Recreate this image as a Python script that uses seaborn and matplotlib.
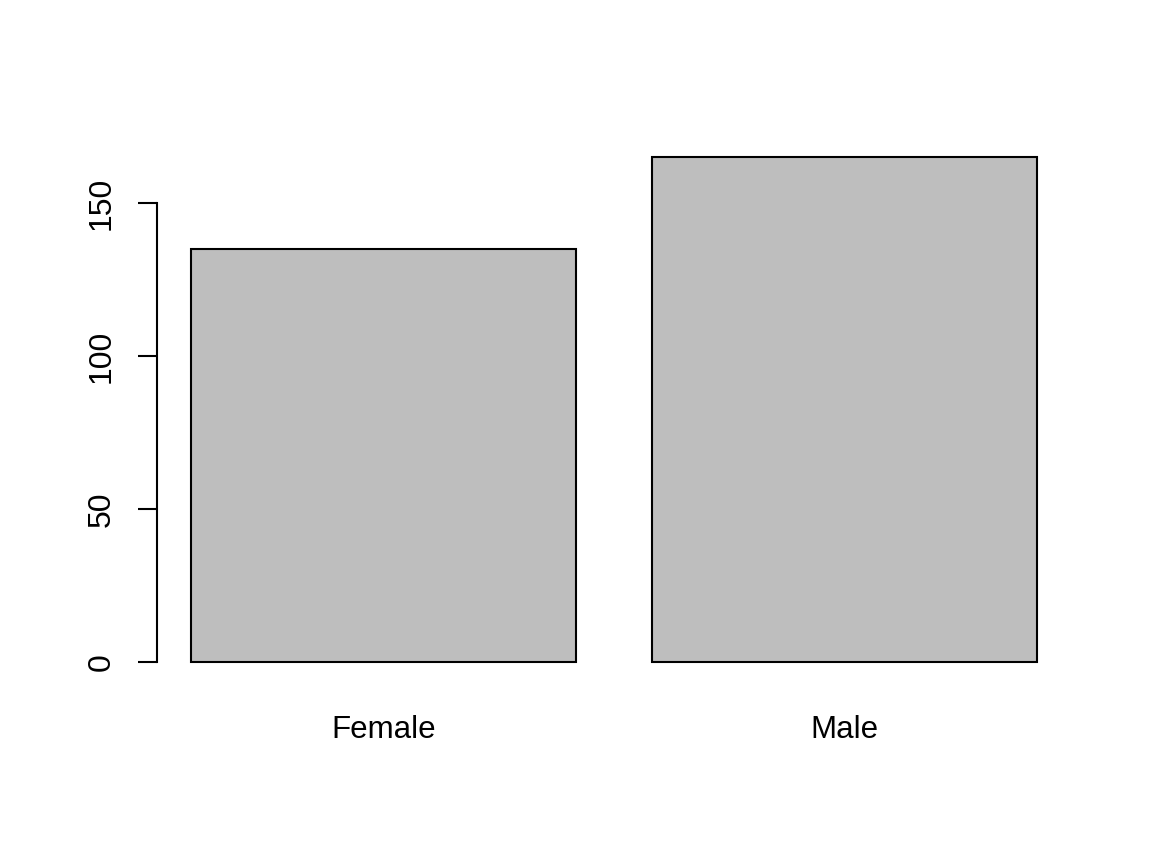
import matplotlib
matplotlib.use("Agg")
import matplotlib.pyplot as plt
import seaborn as sns
import pandas as pd

categories = ["Female", "Male"]
counts = [135, 165]
y_ticks = [0, 50, 100, 150]

sns.set_style("white")
plt.rcParams['font.family'] = ['Liberation Sans', 'DejaVu Sans']
plt.rcParams['text.color'] = 'black'
plt.rcParams['xtick.color'] = 'black'
plt.rcParams['ytick.color'] = 'black'
plt.rcParams['xtick.labelcolor'] = 'black'
plt.rcParams['ytick.labelcolor'] = 'black'

df = pd.DataFrame({"sex": categories, "count": counts})

fig = plt.figure(figsize=(11.52, 8.64), dpi=100)
ax = fig.add_axes([157/1152, 1-682/864, (1071-157)/1152, (682-137)/864])

sns.barplot(data=df, x="sex", y="count", color="#BEBEBE", saturation=1,
            edgecolor="black", linewidth=1.5, width=1/1.2, ax=ax)

ax.set_xlim(-0.49, 1.49)
ax.set_ylim(-6.6, 171.6)
ax.set_xlabel("")
ax.set_ylabel("")

for s in ["top", "right", "bottom"]:
    ax.spines[s].set_visible(False)
ax.spines["left"].set_bounds(0, 150)
ax.spines["left"].set_linewidth(1.5)
ax.spines["left"].set_color("black")

ax.set_yticks(y_ticks)
ax.set_yticklabels([str(v) for v in y_ticks], rotation=90, va="center", fontsize=23, color="black")
ax.tick_params(axis="y", left=True, length=13.5, width=1.5, color="black", pad=15.5, labelsize=23, labelcolor="black")
ax.tick_params(axis="x", bottom=False, length=0, pad=24, labelsize=22.5, labelcolor="black")

fig.savefig("out.png", dpi=100, facecolor="white")
